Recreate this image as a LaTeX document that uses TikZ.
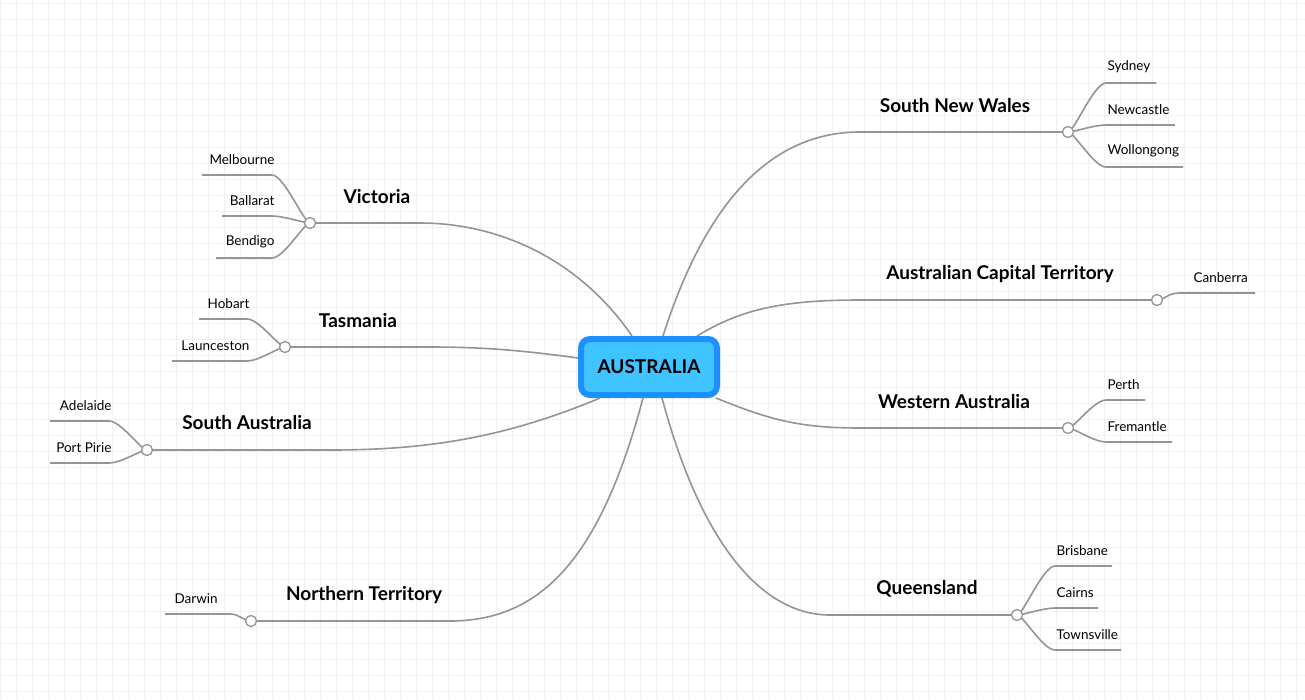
\documentclass[tikz,border=0pt]{standalone}
\usepackage{fontspec}
\setmainfont{Lato}
\begin{document}
\begin{tikzpicture}[x=1pt,y=-1pt,
  br/.style={draw=black!42,line width=1.6pt},
  dot/.style={circle,draw=black!42,line width=1.3pt,fill=white,inner sep=0pt,minimum size=11pt},
  big/.style={font=\fontsize{19}{21}\selectfont\bfseries},
  city/.style={font=\fontsize{13.5}{15}\selectfont}]
\fill[white] (0,0) rectangle (1305,699);
\useasboundingbox (0,0) rectangle (1305,699);
\foreach \i in {0,16,...,1305} \draw[black!6,line width=0.6pt] (\i,0) -- (\i,699);
\foreach \i in {3,19,...,699} \draw[black!6,line width=0.6pt] (0,\i) -- (1305,\i);
% center
\node[draw={rgb,255:red,30;green,143;blue,255},line width=6pt,fill={rgb,255:red,64;green,196;blue,255},rounded corners=9pt,minimum width=136pt,minimum height=56pt,font=\fontsize{19}{21}\selectfont\bfseries] (c) at (649,367) {AUSTRALIA};
\coordinate (nsw) at (1068,132);
\coordinate (act) at (1157,300);
\coordinate (wa) at (1068,428);
\coordinate (qld) at (1017,615);
\coordinate (vic) at (310,223);
\coordinate (tas) at (285,347);
\coordinate (sa) at (147,450);
\coordinate (nt) at (251,621);
\draw[br] (663,336) .. controls (700,220) and (760,132) .. (860,132) -- (nsw);
\draw[br] (697,336) .. controls (740,310) and (780,300) .. (860,300) -- (act);
\draw[br] (716,398) .. controls (770,420) and (800,428) .. (860,428) -- (wa);
\draw[br] (662,398) .. controls (700,540) and (760,615) .. (830,615) -- (qld);
\draw[br] (632,336) .. controls (580,260) and (500,223) .. (420,223) -- (vic);
\draw[br] (578,358) .. controls (520,350) and (480,347) .. (430,347) -- (tas);
\draw[br] (600,398) .. controls (500,440) and (420,450) .. (330,450) -- (sa);
\draw[br] (643,398) .. controls (600,560) and (540,621) .. (450,621) -- (nt);
\node[big] at (955,106) {South New Wales};
\node[big] at (1000,274) {Australian Capital Territory};
\node[big] at (954,402) {Western Australia};
\node[big] at (927,589) {Queensland};
\node[big] at (377,197) {Victoria};
\node[big] at (358,321) {Tasmania};
\node[big] at (247,423) {South Australia};
\node[big] at (364,595) {Northern Territory};
% cities
\foreach \n/\y/\e/\t in {nsw/83/1156/Sydney,nsw/125/1175/Newcastle,nsw/167/1183/Wollongong,wa/400/1145/Perth,wa/442/1172/Fremantle,qld/566/1112/Brisbane,qld/608/1098/Cairns,qld/650/1121/Townsville}{
  \path (\n) ++(22,0) coordinate (s);
  \draw[br] (\n) .. controls ([xshift=6]\n) and ([xshift=4]s|-0,\y) .. ([xshift=16]s|-0,\y) -- (\e,\y);
  \node[city,anchor=south west] at ([xshift=14]s|-0,\y-7) {\t};
}
\coordinate (cb) at (1180,293);
\draw[br] (act) .. controls (1165,300) and (1167,293) .. (cb) -- (1255,293);
\node[city,anchor=south west] at (1190,286) {Canberra};
\foreach \n/\y/\b/\t in {vic/175/202/Melbourne,vic/216/222/Ballarat,vic/258/216/Bendigo,tas/319/199/Hobart,tas/361/172/Launceston,sa/421/50/Adelaide,sa/463/50/Port Pirie}{
  \path (\n) ++(-22,0) coordinate (s);
  \draw[br] (\n) .. controls ([xshift=-6]\n) and ([xshift=-4]s|-0,\y) .. ([xshift=-16]s|-0,\y) -- (\b,\y);
  \node[city,anchor=south east] at ([xshift=-10]s|-0,\y-7) {\t};
}
\coordinate (dw) at (230,614);
\draw[br] (nt) .. controls (243,621) and (240,614) .. (dw) -- (165,614);
\node[city,anchor=south west] at (171,607) {Darwin};
\foreach \n in {nsw,act,wa,qld,vic,tas,sa,nt} \node[dot] at (\n) {};
\end{tikzpicture}
\end{document}
